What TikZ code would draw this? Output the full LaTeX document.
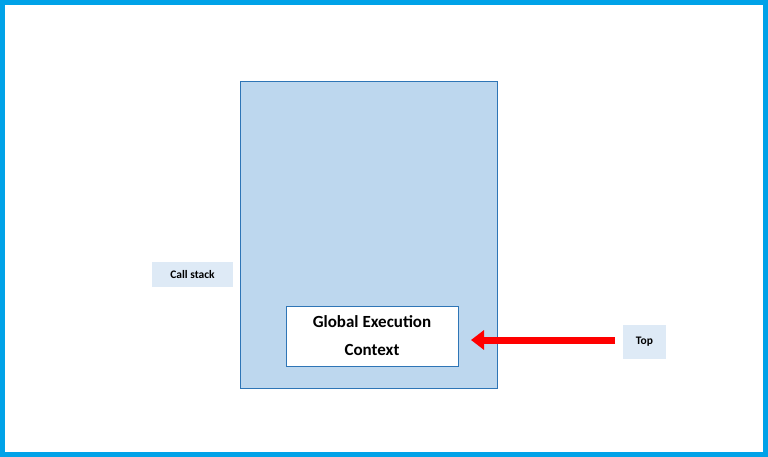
\documentclass[tikz,border=0pt]{standalone}
\usepackage{fontspec}
\setmainfont{Carlito}
\usetikzlibrary{arrows.meta}
\definecolor{frame}{HTML}{00A2E8}
\definecolor{stackfill}{HTML}{BDD7EE}
\definecolor{stackline}{HTML}{2E75B6}
\definecolor{labfill}{HTML}{DEEAF6}
\tikzset{lab/.style={fill=labfill,font=\bfseries\fontsize{11.5}{13}\selectfont,inner sep=0pt,anchor=center}}
\begin{document}
\begin{tikzpicture}[x=1pt,y=-1pt]
\useasboundingbox (0,0) rectangle (768,457);
\draw[frame,line width=5pt] (2.5,2.5) rectangle (765.5,454.5);
\node[draw=stackline,fill=stackfill,minimum width=257pt,minimum height=307pt,inner sep=0pt] (stack) at (368.5,234.5) {};
\node[draw=stackline,fill=white,minimum width=172pt,minimum height=60pt,inner sep=0pt,align=center,font=\bfseries\fontsize{17}{28}\selectfont] (gec) at (372,336) {Global Execution\\Context};
\node[lab,minimum width=81pt,minimum height=25pt] (cs) at (192.5,274.5) {Call stack};
\node[lab,minimum width=43pt,minimum height=34pt] (top) at (644.5,342) {Top};
\coordinate (tail) at (615,340);
\coordinate (head) at (471,340);
\draw[red,line width=7pt,-{Triangle[length=13pt,width=19pt]}] (tail) -- (head);
\end{tikzpicture}
\end{document}
